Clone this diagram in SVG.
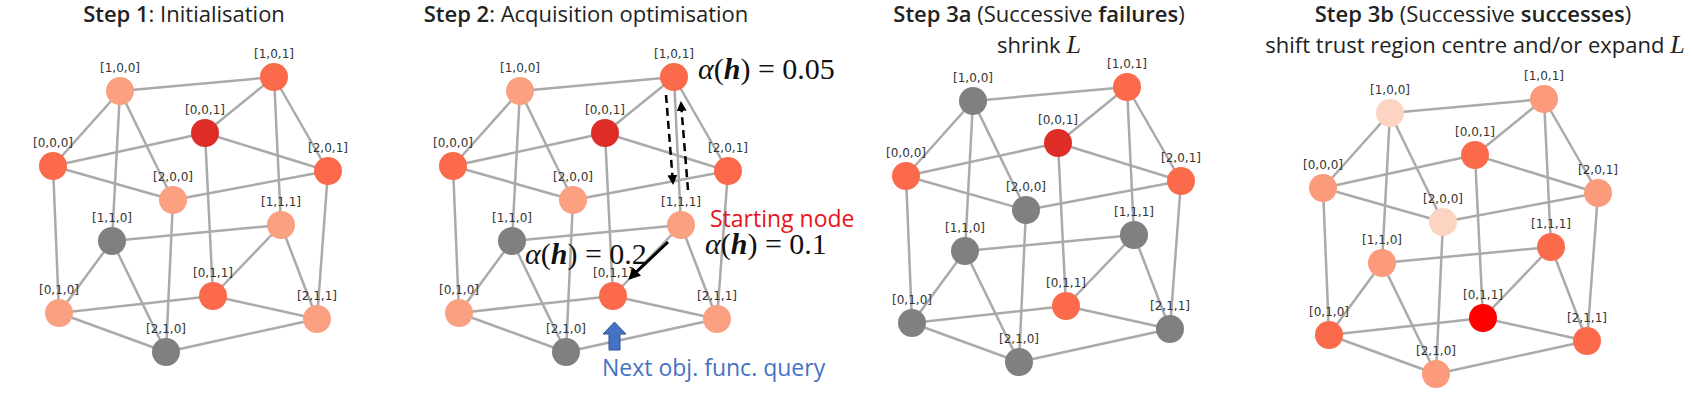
<svg xmlns="http://www.w3.org/2000/svg" width="1692" height="401" viewBox="0 0 1692 401">
<style>
.e line{stroke:#aaaaaa;stroke-width:2.5}
.n circle{stroke:none}
.n text{font-family:"DejaVu Sans",sans-serif;font-size:12px;fill:#333;text-anchor:middle}
.L{fill:#fca082}.O{fill:#fb6a4a}.D{fill:#de2d26}.G{fill:#808080}.V{fill:#fdd4c2}.S{fill:#fc9a7c}.R{fill:#ff0000}
.t{font-family:"Open Sans","Noto Sans",sans-serif;font-size:22px;fill:#222;text-anchor:middle}
.b{font-weight:600}
.m{font-family:"Liberation Serif",serif;font-size:30px;fill:#111}
.ml{font-family:"Liberation Serif",serif;font-style:italic;font-size:26px}
</style>
<defs>
<g id="edges" class="e">
<line x1="120" y1="91" x2="274" y2="77"/><line x1="120" y1="91" x2="53" y2="166"/><line x1="120" y1="91" x2="112" y2="241"/><line x1="120" y1="91" x2="173" y2="200"/>
<line x1="274" y1="77" x2="205" y2="133"/><line x1="274" y1="77" x2="328" y2="171"/><line x1="274" y1="77" x2="281" y2="225"/>
<line x1="205" y1="133" x2="53" y2="166"/><line x1="205" y1="133" x2="328" y2="171"/><line x1="205" y1="133" x2="213" y2="296"/>
<line x1="53" y1="166" x2="173" y2="200"/><line x1="53" y1="166" x2="59" y2="313"/>
<line x1="328" y1="171" x2="173" y2="200"/><line x1="328" y1="171" x2="317" y2="319"/>
<line x1="173" y1="200" x2="166" y2="352"/>
<line x1="281" y1="225" x2="112" y2="241"/><line x1="281" y1="225" x2="213" y2="296"/><line x1="281" y1="225" x2="317" y2="319"/>
<line x1="112" y1="241" x2="59" y2="313"/><line x1="112" y1="241" x2="166" y2="352"/>
<line x1="213" y1="296" x2="59" y2="313"/><line x1="213" y1="296" x2="317" y2="319"/>
<line x1="59" y1="313" x2="166" y2="352"/><line x1="166" y1="352" x2="317" y2="319"/>
</g>
<marker id="ah" viewBox="0 0 10 10" refX="8" refY="5" markerWidth="4" markerHeight="4" orient="auto"><path d="M0,0L10,5L0,10z" fill="#000"/></marker>
</defs>

<!-- Panel 1 -->
<text class="t" x="184" y="22"><tspan class="b">Step 1</tspan>: Initialisation</text>
<g id="connectors-1"><use href="#edges"/></g>
<g id="p1" class="n">
<g id="p1-100"><circle class="L" cx="120" cy="91" r="14"/><text x="120" y="72">[1,0,0]</text></g>
<g id="p1-101"><circle class="O" cx="274" cy="77" r="14"/><text x="274" y="58">[1,0,1]</text></g>
<g id="p1-001"><circle class="D" cx="205" cy="133" r="14"/><text x="205" y="114">[0,0,1]</text></g>
<g id="p1-000"><circle class="O" cx="53" cy="166" r="14"/><text x="53" y="147">[0,0,0]</text></g>
<g id="p1-201"><circle class="O" cx="328" cy="171" r="14"/><text x="328" y="152">[2,0,1]</text></g>
<g id="p1-200"><circle class="L" cx="173" cy="200" r="14"/><text x="173" y="181">[2,0,0]</text></g>
<g id="p1-111"><circle class="L" cx="281" cy="225" r="14"/><text x="281" y="206">[1,1,1]</text></g>
<g id="p1-110"><circle class="G" cx="112" cy="241" r="14"/><text x="112" y="222">[1,1,0]</text></g>
<g id="p1-011"><circle class="O" cx="213" cy="296" r="14"/><text x="213" y="277">[0,1,1]</text></g>
<g id="p1-010"><circle class="L" cx="59" cy="313" r="14"/><text x="59" y="294">[0,1,0]</text></g>
<g id="p1-211"><circle class="L" cx="317" cy="319" r="14"/><text x="317" y="300">[2,1,1]</text></g>
<g id="p1-210"><circle class="G" cx="166" cy="352" r="14"/><text x="166" y="333">[2,1,0]</text></g>
</g>

<!-- Panel 2 -->
<text class="t" x="586" y="22"><tspan class="b">Step 2</tspan>: Acquisition optimisation</text>
<g id="connectors-2"><use href="#edges" transform="translate(400,0)"/></g>
<g id="p2" class="n" transform="translate(400,0)">
<g id="p2-100"><circle class="L" cx="120" cy="91" r="14"/><text x="120" y="72">[1,0,0]</text></g>
<g id="p2-101"><circle class="O" cx="274" cy="77" r="14"/><text x="274" y="58">[1,0,1]</text></g>
<g id="p2-001"><circle class="D" cx="205" cy="133" r="14"/><text x="205" y="114">[0,0,1]</text></g>
<g id="p2-000"><circle class="O" cx="53" cy="166" r="14"/><text x="53" y="147">[0,0,0]</text></g>
<g id="p2-201"><circle class="O" cx="328" cy="171" r="14"/><text x="328" y="152">[2,0,1]</text></g>
<g id="p2-200"><circle class="L" cx="173" cy="200" r="14"/><text x="173" y="181">[2,0,0]</text></g>
<g id="p2-111"><circle class="L" cx="281" cy="225" r="14"/><text x="281" y="206">[1,1,1]</text></g>
<g id="p2-110"><circle class="G" cx="112" cy="241" r="14"/><text x="112" y="222">[1,1,0]</text></g>
<g id="p2-011"><circle class="O" cx="213" cy="296" r="14"/><text x="213" y="277">[0,1,1]</text></g>
<g id="p2-010"><circle class="L" cx="59" cy="313" r="14"/><text x="59" y="294">[0,1,0]</text></g>
<g id="p2-211"><circle class="L" cx="317" cy="319" r="14"/><text x="317" y="300">[2,1,1]</text></g>
<g id="p2-210"><circle class="G" cx="166" cy="352" r="14"/><text x="166" y="333">[2,1,0]</text></g>
</g>
<g id="annotations-2">
<line x1="666" y1="95" x2="673" y2="183" stroke="#000" stroke-width="2.5" stroke-dasharray="8,5" marker-end="url(#ah)"/>
<line x1="688" y1="190" x2="681" y2="103" stroke="#000" stroke-width="2.5" stroke-dasharray="8,5" marker-end="url(#ah)"/>
<line x1="668" y1="242" x2="630" y2="278" stroke="#000" stroke-width="3" marker-end="url(#ah)"/>
<path d="M614.5,322 L626,334 L620,334 L620,350 L609,350 L609,334 L603,334 Z" fill="#4472c4" stroke="#2f528f" stroke-width="1"/>
<text class="m" x="698" y="79"><tspan font-style="italic">α</tspan>(<tspan font-weight="bold" font-style="italic">h</tspan>) = 0.05</text>
<text x="710" y="227" font-family="'Open Sans','Noto Sans',sans-serif" font-size="23" fill="#e8141c">Starting node</text>
<text class="m" x="705" y="254"><tspan font-style="italic">α</tspan>(<tspan font-weight="bold" font-style="italic">h</tspan>) = 0.1</text>
<text class="m" x="525" y="264"><tspan font-style="italic">α</tspan>(<tspan font-weight="bold" font-style="italic">h</tspan>) = 0.2</text>
<text x="602" y="376" font-family="'Open Sans','Noto Sans',sans-serif" font-size="23" fill="#4472c4">Next obj. func. query</text>
</g>

<!-- Panel 3 -->
<text class="t" x="1039" y="22"><tspan class="b">Step 3a</tspan> (Successive <tspan class="b">failures</tspan>)</text>
<text class="t" x="1039" y="53">shrink <tspan class="ml">L</tspan></text>
<g id="connectors-3"><use href="#edges" transform="translate(853,10)"/></g>
<g id="p3" class="n" transform="translate(853,10)">
<g id="p3-100"><circle class="G" cx="120" cy="91" r="14"/><text x="120" y="72">[1,0,0]</text></g>
<g id="p3-101"><circle class="O" cx="274" cy="77" r="14"/><text x="274" y="58">[1,0,1]</text></g>
<g id="p3-001"><circle class="D" cx="205" cy="133" r="14"/><text x="205" y="114">[0,0,1]</text></g>
<g id="p3-000"><circle class="O" cx="53" cy="166" r="14"/><text x="53" y="147">[0,0,0]</text></g>
<g id="p3-201"><circle class="O" cx="328" cy="171" r="14"/><text x="328" y="152">[2,0,1]</text></g>
<g id="p3-200"><circle class="G" cx="173" cy="200" r="14"/><text x="173" y="181">[2,0,0]</text></g>
<g id="p3-111"><circle class="G" cx="281" cy="225" r="14"/><text x="281" y="206">[1,1,1]</text></g>
<g id="p3-110"><circle class="G" cx="112" cy="241" r="14"/><text x="112" y="222">[1,1,0]</text></g>
<g id="p3-011"><circle class="O" cx="213" cy="296" r="14"/><text x="213" y="277">[0,1,1]</text></g>
<g id="p3-010"><circle class="G" cx="59" cy="313" r="14"/><text x="59" y="294">[0,1,0]</text></g>
<g id="p3-211"><circle class="G" cx="317" cy="319" r="14"/><text x="317" y="300">[2,1,1]</text></g>
<g id="p3-210"><circle class="G" cx="166" cy="352" r="14"/><text x="166" y="333">[2,1,0]</text></g>
</g>

<!-- Panel 4 -->
<text class="t" x="1473" y="22"><tspan class="b">Step 3b</tspan> (Successive <tspan class="b">successes</tspan>)</text>
<text class="t" x="1475" y="53">shift trust region centre and/or expand <tspan class="ml">L</tspan></text>
<g id="connectors-4"><use href="#edges" transform="translate(1270,22)"/></g>
<g id="p4" class="n" transform="translate(1270,22)">
<g id="p4-100"><circle class="V" cx="120" cy="91" r="14"/><text x="120" y="72">[1,0,0]</text></g>
<g id="p4-101"><circle class="S" cx="274" cy="77" r="14"/><text x="274" y="58">[1,0,1]</text></g>
<g id="p4-001"><circle class="O" cx="205" cy="133" r="14"/><text x="205" y="114">[0,0,1]</text></g>
<g id="p4-000"><circle class="S" cx="53" cy="166" r="14"/><text x="53" y="147">[0,0,0]</text></g>
<g id="p4-201"><circle class="S" cx="328" cy="171" r="14"/><text x="328" y="152">[2,0,1]</text></g>
<g id="p4-200"><circle class="V" cx="173" cy="200" r="14"/><text x="173" y="181">[2,0,0]</text></g>
<g id="p4-111"><circle class="O" cx="281" cy="225" r="14"/><text x="281" y="206">[1,1,1]</text></g>
<g id="p4-110"><circle class="S" cx="112" cy="241" r="14"/><text x="112" y="222">[1,1,0]</text></g>
<g id="p4-011"><circle class="R" cx="213" cy="296" r="14"/><text x="213" y="277">[0,1,1]</text></g>
<g id="p4-010"><circle class="O" cx="59" cy="313" r="14"/><text x="59" y="294">[0,1,0]</text></g>
<g id="p4-211"><circle class="O" cx="317" cy="319" r="14"/><text x="317" y="300">[2,1,1]</text></g>
<g id="p4-210"><circle class="S" cx="166" cy="352" r="14"/><text x="166" y="333">[2,1,0]</text></g>
</g>
</svg>
